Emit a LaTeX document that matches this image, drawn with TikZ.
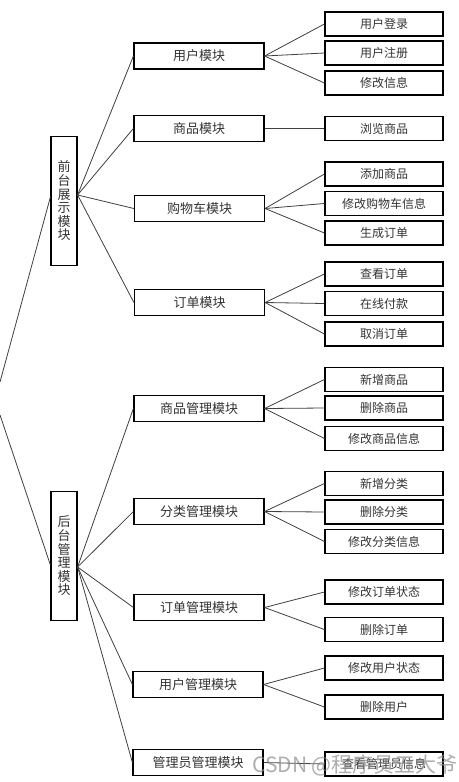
\documentclass[tikz,border=0pt]{standalone}
\usepackage{fontspec}
\setmainfont{Noto Sans CJK SC}
\begin{document}
\begin{tikzpicture}[x=1pt,y=-1pt,
  box/.style={draw=black,line width=1.2pt,fill=white,inner sep=0pt,text=black!80},
  lone/.style={box,minimum width=26pt,minimum height=129pt,align=center,font=\fontsize{13}{13.6}\selectfont},
  ltwo/.style={box,minimum width=130pt,minimum height=26pt,font=\fontsize{13}{15}\selectfont},
  leaf/.style={box,minimum width=118pt,minimum height=24pt,font=\fontsize{12}{14}\selectfont},
  link/.style={draw=black!75,line width=0.8pt}]
\useasboundingbox (0,0) rectangle (458,782);
\fill[white] (0,0) rectangle (458,782);

% level 1
\node[lone] (qian) at (64,201) {前\\台\\展\\示\\模\\块};
\node[lone] (hou) at (64,556) {后\\台\\管\\理\\模\\块};
\coordinate (r1) at (0,382);
\coordinate (r2) at (0,415);
\coordinate (qw) at ([yshift=4pt]qian.west);
\coordinate (qe) at ([yshift=6pt]qian.east);
\coordinate (hw) at ([yshift=-9pt]hou.west);
\coordinate (he) at ([yshift=-11pt]hou.east);

% level 2
\node[ltwo] (yhmk) at (199,56) {用户模块};
\node[ltwo] (spmk) at (199,128.5) {商品模块};
\node[ltwo] (gwc) at (199.5,208.5) {购物车模块};
\node[ltwo] (ddmk) at (199.5,302.5) {订单模块};
\node[ltwo] (spgl) at (199,408.5) {商品管理模块};
\node[ltwo] (flgl) at (199,511.5) {分类管理模块};
\node[ltwo] (ddgl) at (199,607.5) {订单管理模块};
\node[ltwo] (yhgl) at (198,684.5) {用户管理模块};
\node[ltwo] (glygl) at (198,762.5) {管理员管理模块};

% leaves
\node[leaf] (a1) at (384,24) {用户登录};
\node[leaf] (a2) at (384,53) {用户注册};
\node[leaf] (a3) at (384,83) {修改信息};
\node[leaf] (b1) at (384,128.5) {浏览商品};
\node[leaf] (c1) at (384,174) {添加商品};
\node[leaf] (c2) at (384,203.5) {修改购物车信息};
\node[leaf] (c3) at (384,233) {生成订单};
\node[leaf] (d1) at (384,274) {查看订单};
\node[leaf] (d2) at (384,303.5) {在线付款};
\node[leaf] (d3) at (384,334) {取消订单};
\node[leaf] (e1) at (384,379.5) {新增商品};
\node[leaf] (e2) at (384,408) {删除商品};
\node[leaf] (e3) at (384,438.5) {修改商品信息};
\node[leaf] (f1) at (384,483.5) {新增分类};
\node[leaf] (f2) at (384,512) {删除分类};
\node[leaf] (f3) at (384,541.5) {修改分类信息};
\node[leaf] (g1) at (384,592) {修改订单状态};
\node[leaf] (g2) at (384,629.5) {删除订单};
\node[leaf] (h1) at (384,668) {修改用户状态};
\node[leaf] (h2) at (384,707) {删除用户};
\node[leaf] (i1) at (384,764) {查看管理员信息};

% connectors
\begin{scope}[on background layer/.style={}]
\draw[link] (r1) -- (qw);
\draw[link] (r2) -- (hw);
\foreach \t in {yhmk,spmk,gwc,ddmk} \draw[link] (qe) -- (\t.west);
\foreach \t in {spgl,flgl,ddgl,yhgl,glygl} \draw[link] (he) -- (\t.west);
\foreach \t in {a1,a2,a3} \draw[link] (yhmk.east) -- (\t.west);
\draw[link] (spmk.east) -- (b1.west);
\foreach \t in {c1,c2,c3} \draw[link] (gwc.east) -- (\t.west);
\foreach \t in {d1,d2,d3} \draw[link] (ddmk.east) -- (\t.west);
\foreach \t in {e1,e2,e3} \draw[link] (spgl.east) -- (\t.west);
\foreach \t in {f1,f2,f3} \draw[link] (flgl.east) -- (\t.west);
\foreach \t in {g1,g2} \draw[link] (ddgl.east) -- (\t.west);
\foreach \t in {h1,h2} \draw[link] (yhgl.east) -- (\t.west);
\draw[link] (glygl.east) -- (i1.west);
\end{scope}

% watermark
\node[text=black!45,opacity=0.7,font=\fontsize{21}{24}\selectfont,anchor=east,inner sep=0pt] (wm) at (458,765) {CSDN @程序员五大爷};
\end{tikzpicture}
\end{document}
